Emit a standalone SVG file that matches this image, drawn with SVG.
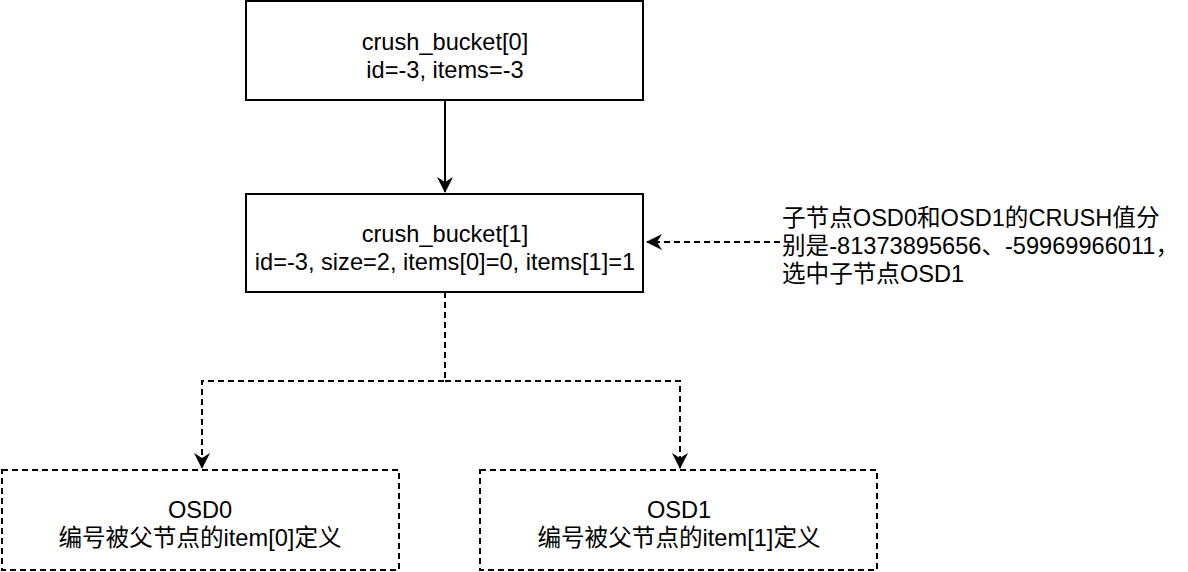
<svg xmlns="http://www.w3.org/2000/svg" width="1188" height="572" viewBox="0 0 1188 572">
<style>
.box{fill:#fff;stroke:#000;stroke-width:2}
.dbox{fill:#fff;stroke:#000;stroke-width:2;stroke-dasharray:6 4}
.t{font-family:"Liberation Sans","Noto Sans CJK SC",sans-serif;font-size:23.6px;fill:#000}
.c{text-anchor:middle}
.ln{fill:none;stroke:#000;stroke-width:2}
.dl{fill:none;stroke:#000;stroke-width:2;stroke-dasharray:6 4}
</style>
<defs>
<marker id="b" markerWidth="16" markerHeight="16" refX="15" refY="8" orient="auto" markerUnits="userSpaceOnUse" viewBox="0 0 16 16"><path d="M0,0 L16,8 L0,16 L5,8 Z" fill="#000"/></marker></defs>
<g id="connectors">
<path class="ln" d="M445,100 V192" marker-end="url(#b)"/>
<path class="dl" d="M445,292 V381 H202 V468" marker-end="url(#b)"/>
<path class="dl" d="M445,381 H680 V468" marker-end="url(#b)"/>
<path class="dl" d="M780,242 H647" marker-end="url(#b)"/>
</g>
<g id="n0"><rect class="box" x="246" y="1" width="397" height="99"/>
<text class="t c" x="445" y="50">crush_bucket[0]</text><text class="t c" x="445" y="78">id=-3, items=-3</text></g>
<g id="n1"><rect class="box" x="246" y="194" width="397" height="98"/>
<text class="t c" x="445" y="242">crush_bucket[1]</text><text class="t c" x="445" y="270">id=-3, size=2, items[0]=0, items[1]=1</text></g>
<g id="osd0"><rect class="dbox" x="2" y="470" width="397" height="100"/>
<text class="t c" x="200" y="518">OSD0</text><text class="t c" x="200" y="546">编号被父节点的item[0]定义</text></g>
<g id="osd1"><rect class="dbox" x="480" y="470" width="397" height="100"/>
<text class="t c" x="679" y="518">OSD1</text><text class="t c" x="679" y="546">编号被父节点的item[1]定义</text></g>
<g id="note"><text class="t" x="782" y="226">子节点OSD0和OSD1的CRUSH值分</text><text class="t" x="782" y="254">别是-81373895656、-59969966011，</text><text class="t" x="782" y="282">选中子节点OSD1</text></g>
</svg>
